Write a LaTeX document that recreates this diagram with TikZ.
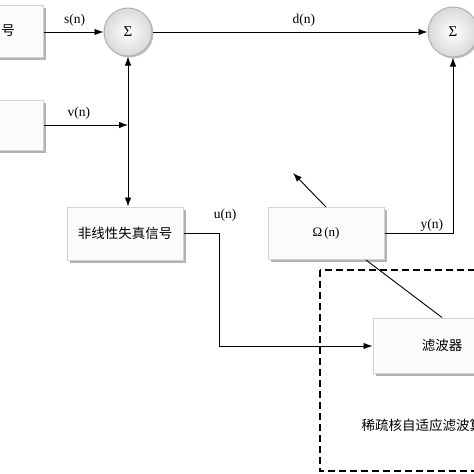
\documentclass[tikz,border=0pt]{standalone}
\usepackage{fontspec}
\setmainfont{Liberation Serif}
\newfontfamily\cjk{Noto Sans CJK SC}
\usetikzlibrary{arrows.meta, shadows}
\tikzstyle{block} = [rectangle, minimum width=116pt, minimum height=52pt, text centered, draw=gray!35, line width=1pt, fill=gray!3, drop shadow={shadow xshift=2.5pt, shadow yshift=-2.5pt, fill=gray!60, opacity=1}, font=\cjk\fontsize{13.5}{15}\selectfont]
\tikzstyle{sumnode} = [circle, minimum size=48pt, inner sep=0pt, draw=gray!60, line width=1pt, inner color=white, outer color=gray!30, drop shadow={shadow xshift=1.5pt, shadow yshift=-1.5pt, fill=gray!50, opacity=1}, font=\fontsize{15}{17}\selectfont]
\tikzstyle{arrow} = [line width=0.9pt, -{Latex[length=9pt,width=6.5pt]}]
\tikzstyle{lbl} = [font=\fontsize{13.5}{15}\selectfont]

\begin{document}
\begin{tikzpicture}[x=1pt, y=-1pt]
    \useasboundingbox (0,0) rectangle (474,474);
    \clip (0,0) rectangle (474,474);

    % Nodes
    \node (source) [block, minimum width=120pt, minimum height=52pt, text width=64pt, inner xsep=0pt, align=right] at (-17,31) {号};
    \node (noise) [block, minimum width=120pt, minimum height=50pt] at (-17,125) {};
    \node (sumone) [sumnode] at (128,32) {Σ};
    \node (sumtwo) [sumnode, minimum size=50pt, right of=sumone, node distance=325pt] {Σ};
    \node (distortion) [block, minimum height=53pt] at (125,233.5) {非线性失真信号};
    \node (omega) [block, font=\fontsize{13}{15}\selectfont, right of=distortion, node distance=201pt] {Ω\,(n)};
    \node (filter) [block, minimum width=138pt, minimum height=55pt] at (442,345.5) {滤波器};
    \node (algo) [anchor=west, font=\cjk\fontsize{13.5}{15}\selectfont] at (358,425) {稀疏核自适应滤波算};
    \coordinate (junction) at (sumone |- noise.east);
    \coordinate (bend) at (219,346);
    \coordinate (tip) at (293,173);
    \coordinate (wstart) at (366,260);

    % dashed frame
    \draw [dashed, line width=1.1pt, dash pattern=on 7pt off 4pt] (320,270) rectangle (620,471);

    % Arrows
    \draw [arrow] (source.east |- sumone) -- node[lbl, above=2pt, pos=0.52] {s(n)} (sumone.west);
    \draw [arrow] (noise.east) -- node[lbl, above=2pt, pos=0.42] {v(n)} (junction);
    \draw [arrow] (junction) -- (sumone.south);
    \draw [arrow] (junction) -- (distortion.north -| sumone);
    \draw [arrow] (sumone.east) -- node[lbl, above=2pt, pos=0.55] {d(n)} (sumtwo.west);
    \draw [arrow] (distortion.east) -| node[lbl, above, xshift=6pt, yshift=8pt] {u(n)} (bend) -- (bend -| filter.west);
    \draw [arrow] (omega.east) -| node[lbl, above left, xshift=-6pt, yshift=-2pt] {y(n)} (sumtwo.south);
    \draw [arrow] (omega.north) -- (tip);
    \draw [line width=0.9pt] (wstart) -- (filter.north);
\end{tikzpicture}
\end{document}
